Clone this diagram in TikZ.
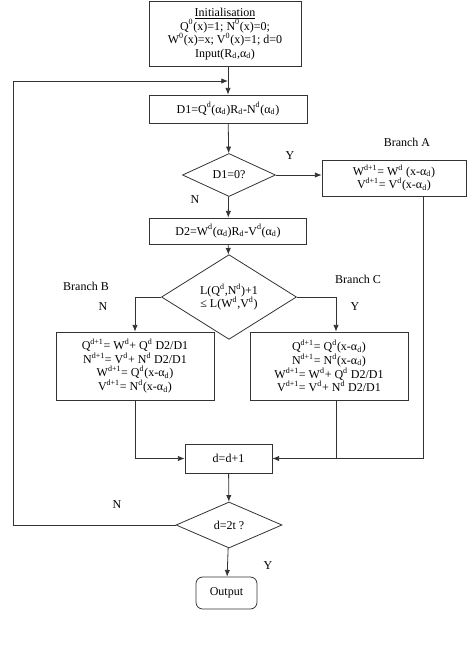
\documentclass[tikz,border=0pt]{standalone}
\usepackage{fontspec}
\setmainfont{Liberation Serif}
\usetikzlibrary{shapes.geometric,arrows.meta}
\newcommand{\px}{0.75pt}
\newcommand{\up}[1]{\textsuperscript{#1}}
\newcommand{\dn}[1]{\textsubscript{#1}}
\tikzset{
  box/.style={draw, align=center, inner sep=1pt},
  decision/.style={draw, diamond, align=center, inner sep=0pt},
  flow/.style={-{Latex[length=5pt,width=4pt]}},
}

\begin{document}
\begin{tikzpicture}[x=\px, y=-\px, line width=0.6pt, draw=black!80,
    font=\fontsize{9}{10.3}\selectfont]
\useasboundingbox (0,0) rectangle (474,658);
% boxes of the main column
\node[box, minimum width=152*\px, minimum height=65*\px] (init) at (225,34)
  {\underline{Initialisation}\\ Q\up{0}(x)=1; N\up{0}(x)=0;\\
   W\up{0}(x)=x; V\up{0}(x)=1; d=0\\ Input(R\dn{d},α\dn{d})};
\node[box, minimum width=158*\px, minimum height=28*\px] (d1) at (228,109)
  {D1=Q\up{d}(α\dn{d})R\dn{d}-N\up{d}(α\dn{d})};
\node[decision, minimum width=93*\px, minimum height=43*\px] (q1) at (229,175) {D1=0?};
\node[box, minimum width=144*\px, minimum height=36*\px] (brA) at (394,178)
  {W\up{d+1}= W\up{d} (x-α\dn{d})\\ V\up{d+1}= V\up{d}(x-α\dn{d})};
\node[box, minimum width=157*\px, minimum height=26*\px] (d2) at (228,231)
  {D2=W\up{d}(α\dn{d})R\dn{d}-V\up{d}(α\dn{d})};
\node[decision, minimum width=135*\px, minimum height=71*\px] (q2) at (229,297)
  {L(Q\up{d},N\up{d})+1\\ ≤ L(W\up{d},V\up{d})};
% the two branches
\node[box, minimum width=158*\px, minimum height=68*\px] (brB) at (135,366)
  {Q\up{d+1}= W\up{d}+ Q\up{d} D2/D1\\ N\up{d+1}= V\up{d}+ N\up{d} D2/D1\\
   W\up{d+1}= Q\up{d}(x-α\dn{d})\\ V\up{d+1}= N\up{d}(x-α\dn{d})};
\node[box, minimum width=158*\px, minimum height=68*\px] (brC) at (329,366)
  {Q\up{d+1}= Q\up{d}(x-α\dn{d})\\ N\up{d+1}= N\up{d}(x-α\dn{d})\\
   W\up{d+1}= W\up{d}+ Q\up{d} D2/D1\\ V\up{d+1}= V\up{d}+ N\up{d} D2/D1};
\node[box, minimum width=87*\px, minimum height=29*\px] (inc) at (228.5,458.5) {d=d+1};
\node[decision, minimum width=106*\px, minimum height=46*\px] (q3) at (229,525) {d=2t ?};
\node[box, rounded corners=5pt, minimum width=61*\px, minimum height=32*\px] (out) at (226.5,593) {Output};
% labels
\node (lY1) at (290,156) {Y};
\node (lA) at (407,142) {Branch A};
\node (lN1) at (195,200) {N};
\node (lB) at (86,286) {Branch B};
\node (lN2) at (103,307) {N};
\node (lC) at (358,279) {Branch C};
\node (lY2) at (355,307) {Y};
\node (lN3) at (117,505) {N};
\node (lY3) at (268,566) {Y};
% connectors
\coordinate (cC) at (336,297);
\coordinate (jB) at (135,458.5);
\coordinate (jC) at (336,458.5);
\coordinate (jA) at (423,458.5);
\coordinate (loopB) at (13,525);
\coordinate (loopT) at (13,81);
\draw[flow] (d1.north |- init.south) -- (d1.north);
\draw[flow] (d1) -- (q1);
\draw[flow] (q1.east) -- (q1.east -| brA.west);
\draw[flow] (q1) -- (d2);
\draw[flow] (d2) -- (q2);
\draw[flow] (q2.west) -| (brB.north);
\draw[flow] (q2.east) -- (cC) -- (cC |- brC.north);
\draw[flow] (brB.south) -- (jB) -- (inc.west);
\draw (jC |- brC.south) -- (jC);
\draw[flow] (jA |- brA.south) -- (jA) -- (inc.east);
\draw[flow] (inc) -- (q3);
\draw[flow] (q3) -- (out);
\draw[flow] (q3.west) -- (loopB) -- (loopT) -- (loopT -| d1.north);
\end{tikzpicture}
\end{document}
